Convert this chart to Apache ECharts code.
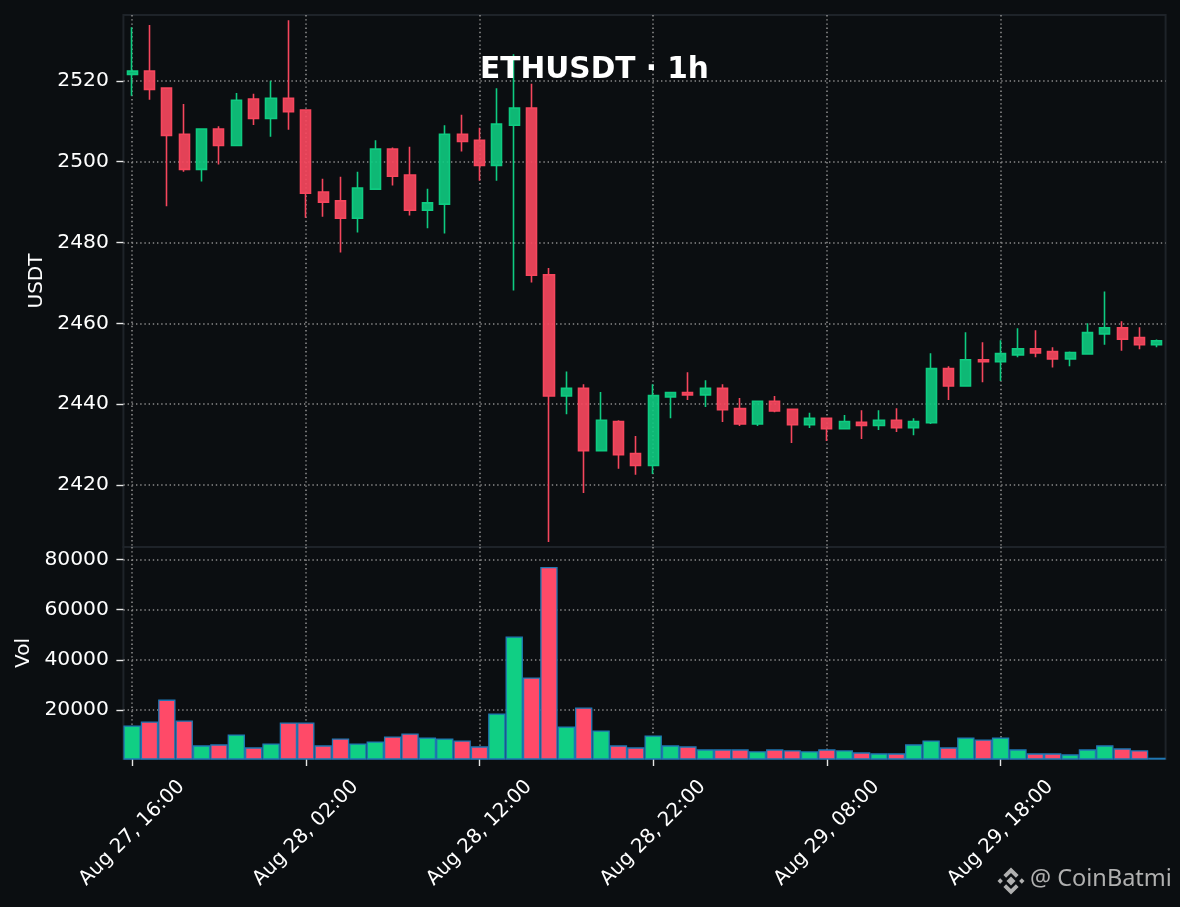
<!DOCTYPE html>
<html>
<head>
<meta charset="utf-8">
<script src="https://cdn.jsdelivr.net/npm/echarts@6/dist/echarts.min.js"></script>
<style>html,body{margin:0;padding:0;background:#0b0e11}#c{width:1180px;height:907px}</style>
</head>
<body>
<div id="c"></div>
<script>
const categories = [
"Aug 27, 16:00","Aug 27, 17:00","Aug 27, 18:00","Aug 27, 19:00","Aug 27, 20:00","Aug 27, 21:00","Aug 27, 22:00","Aug 27, 23:00",
"Aug 28, 00:00","Aug 28, 01:00","Aug 28, 02:00","Aug 28, 03:00","Aug 28, 04:00","Aug 28, 05:00","Aug 28, 06:00","Aug 28, 07:00",
"Aug 28, 08:00","Aug 28, 09:00","Aug 28, 10:00","Aug 28, 11:00","Aug 28, 12:00","Aug 28, 13:00","Aug 28, 14:00","Aug 28, 15:00",
"Aug 28, 16:00","Aug 28, 17:00","Aug 28, 18:00","Aug 28, 19:00","Aug 28, 20:00","Aug 28, 21:00","Aug 28, 22:00","Aug 28, 23:00",
"Aug 29, 00:00","Aug 29, 01:00","Aug 29, 02:00","Aug 29, 03:00","Aug 29, 04:00","Aug 29, 05:00","Aug 29, 06:00","Aug 29, 07:00",
"Aug 29, 08:00","Aug 29, 09:00","Aug 29, 10:00","Aug 29, 11:00","Aug 29, 12:00","Aug 29, 13:00","Aug 29, 14:00","Aug 29, 15:00",
"Aug 29, 16:00","Aug 29, 17:00","Aug 29, 18:00","Aug 29, 19:00","Aug 29, 20:00","Aug 29, 21:00","Aug 29, 22:00","Aug 29, 23:00",
"Aug 30, 00:00","Aug 30, 01:00","Aug 30, 02:00","Aug 30, 03:00"];
const opens = [2521.6,2522.4,2518.2,2506.8,2498.1,2508.1,2504,2515.5,2510.7,2515.7,
2512.8,2492.5,2490.3,2486,2493.2,2503.1,2496.7,2488,2489.5,2506.8,
2505.3,2499.1,2509,2513.3,2472,2442,2443.9,2428.5,2435.7,2427.8,
2424.8,2441.8,2442.9,2442.3,2443.9,2438.9,2435.1,2440.7,2438.7,2434.9,
2436.5,2433.9,2435.5,2434.7,2436,2434.2,2435.4,2448.8,2444.5,2451,
2450.5,2452.2,2453.7,2453,2451.2,2452.4,2457.4,2458.9,2456.5,2454.7];
const closes = [2522.4,2517.9,2506.5,2498.1,2508.1,2504,2515.2,2510.7,2515.7,2512.4,
2492.2,2490,2486,2493.5,2503.1,2496.4,2488,2489.8,2506.8,2505,
2499.1,2509.3,2513.3,2471.9,2442,2443.9,2428.5,2436,2427.5,2424.8,
2442.1,2442.9,2442.3,2443.9,2438.6,2435.1,2440.7,2438.3,2434.9,2436.5,
2433.9,2435.7,2434.7,2436,2434.2,2435.7,2448.8,2444.5,2451,2450.5,
2452.5,2453.7,2452.7,2451.2,2452.8,2457.7,2458.9,2456.1,2454.7,2455.7];
const lows = [2516.3,2515.3,2489,2497.5,2495.1,2499.3,2504,2509.1,2506.2,2507.9,
2486.1,2486.4,2477.5,2482.5,2493.2,2494.1,2486.7,2483.5,2482.2,2502.5,
2495.3,2495.3,2468.1,2470.1,2405.9,2437.5,2418,2428.5,2424,2422.5,
2422.7,2436.5,2441,2439.3,2435.6,2434.6,2434.6,2438,2430.4,2434.1,
2430.9,2433.7,2431.4,2433.6,2433.1,2432.3,2435.1,2441,2444.5,2445.4,
2445.7,2451.6,2451.6,2449.1,2449.4,2452.4,2454.7,2453.2,2453.6,2454.1];
const highs = [2533.25,2533.8,2518.2,2514.3,2508.1,2508.8,2517,2516.8,2520,2535,
2512.8,2495.8,2496.3,2497.5,2505.3,2503.5,2503.7,2493.3,2509,2511.6,
2508.4,2518.2,2526.6,2519.3,2473.7,2448.1,2444.9,2443,2436,2432.1,
2444.9,2442.9,2447.9,2445.9,2444.9,2441.5,2440.9,2442,2438.9,2437.9,
2436.7,2437.3,2438.5,2438.5,2439,2436.5,2452.6,2449.4,2457.8,2455.3,
2455.8,2458.8,2458.3,2454.1,2453,2460,2467.9,2460.5,2459,2456];
const volumes = [13800,15400,24150,15800,5900,6300,10260,5100,6650,15000,
15000,5900,8670,6650,7480,9470,10650,9070,8670,7880,
5500,18600,49270,33000,77040,13430,20970,11850,5900,5100,
9860,5900,5500,4310,4310,4310,3520,4310,3920,3520,
4310,3920,3120,2720,2720,6300,7880,5100,9070,8280,
9070,4310,2720,2720,2320,4310,5900,4700,3920,980];
const priceTicks = [2420,2440,2460,2480,2500,2520];
const volumeTicks = [20000,40000,60000,80000];
const titleText = "ETHUSDT \u00b7 1h";
const priceName = "USDT";
const volumeName = "Vol";
const watermark = "@ CoinBatmi";

const UP = '#0ecb81', DOWN = '#f6465d';
const BG = '#0b0e11', FRAME = '#1e2329', GRID = '#8a8a8a', TXT = '#ffffff';
const FONT = '"DejaVu Sans", sans-serif';
const candleData = opens.map((o, i) => [o, closes[i], lows[i], highs[i]]);
const volumeData = volumes.map((v, i) => ({
  value: v,
  itemStyle: { color: closes[i] >= opens[i] ? '#10cf84' : '#ff4a68' }
}));
const gridLine = { show: true, lineStyle: { color: GRID, width: 1.6, type: [1.4, 2.8] } };
const xGrid = { show: true, interval: 9, alignWithLabel: true, lineStyle: gridLine.lineStyle };

const chart = echarts.init(document.getElementById('c'), null, { renderer: 'canvas' });
chart.setOption({
  animation: false,
  backgroundColor: BG,
  textStyle: { fontFamily: FONT },
  title: {
    text: titleText, left: 589.5, top: 50, textAlign: 'center', z: 10,
    textStyle: { color: TXT, fontSize: 29.6, fontWeight: 'bold', fontFamily: FONT }
  },
  grid: [
    { left: 123.4, right: 14.4, top: 15, height: 532, show: true, borderColor: FRAME, borderWidth: 2, backgroundColor: 'transparent', outerBoundsMode: 'none' },
    { left: 123.4, right: 14.4, top: 547, height: 212, show: true, borderColor: FRAME, borderWidth: 2, backgroundColor: 'transparent', outerBoundsMode: 'none' }
  ],
  xAxis: [
    { type: 'category', gridIndex: 0, data: categories, boundaryGap: true,
      axisLine: { show: false }, axisTick: { show: false }, axisLabel: { show: false },
      splitLine: xGrid },
    { type: 'category', gridIndex: 1, data: categories, boundaryGap: true,
      axisLine: { show: false },
      axisTick: { show: true, interval: 9, alignWithLabel: true, length: 7, lineStyle: { color: '#e6e6e6', width: 1.4 } },
      axisLabel: { show: true, interval: 9, rotate: 45, align: 'center', verticalAlign: 'middle', margin: 74,
        color: TXT, fontSize: 19.8, fontFamily: FONT, hideOverlap: false },
      splitLine: xGrid }
  ],
  yAxis: [
    { type: 'value', gridIndex: 0, min: 2404.65, max: 2536.3, scale: true,
      name: priceName, nameLocation: 'middle', nameGap: 74, nameRotate: 90,
      nameTextStyle: { color: TXT, fontSize: 20, fontFamily: FONT },
      axisLine: { show: false },
      axisTick: { show: true, length: 7, customValues: priceTicks, lineStyle: { color: '#e6e6e6', width: 1.4 } },
      axisLabel: { show: true, margin: 14.5, padding: [4, 0, 0, 0], customValues: priceTicks, color: TXT, fontSize: 20.3, fontFamily: FONT,
        formatter: v => String(v) },
      splitLine: gridLine },
    { type: 'value', gridIndex: 1, min: 460, max: 84980,
      name: volumeName, nameLocation: 'middle', nameGap: 88, nameRotate: 90,
      nameTextStyle: { color: TXT, fontSize: 20, fontFamily: FONT },
      axisLine: { show: false },
      axisTick: { show: true, length: 7, customValues: volumeTicks, lineStyle: { color: '#e6e6e6', width: 1.4 } },
      axisLabel: { show: true, margin: 14.5, padding: [4, 0, 0, 0], customValues: volumeTicks, color: TXT, fontSize: 20.3, fontFamily: FONT,
        formatter: v => String(v) },
      splitLine: gridLine }
  ],
  series: [
    { type: 'candlestick', name: 'ETHUSDT', xAxisIndex: 0, yAxisIndex: 0, data: candleData,
      barWidth: 10.6, clip: true,
      itemStyle: { color: 'rgba(14,203,129,0.9)', color0: 'rgba(246,70,93,0.92)', borderColor: UP, borderColor0: DOWN, borderWidth: 1.6 } },
    { type: 'bar', name: 'Vol', xAxisIndex: 1, yAxisIndex: 1, data: volumeData, barWidth: '100%',
      itemStyle: { borderColor: '#1f77b4', borderWidth: 1.3 } }
  ],
  graphic: [
    { type: 'text', left: 1030, top: 867, z: 20, style: { text: watermark, fill: '#b0b0b0', fontSize: 23.5, fontFamily: '"Noto Sans", sans-serif' } },
    { type: 'group', x: 1011, y: 881, z: 20, children: [
      { type: 'polygon', shape: { points: [[0,-4.5],[4.5,0],[0,4.5],[-4.5,0]] }, style: { fill: '#b0b0b0' } },
      { type: 'polygon', shape: { points: [[-13.5,0],[-10.8,-2.7],[-8.1,0],[-10.8,2.7]] }, style: { fill: '#b0b0b0' } },
      { type: 'polygon', shape: { points: [[13.5,0],[10.8,-2.7],[8.1,0],[10.8,2.7]] }, style: { fill: '#b0b0b0' } },
      { type: 'polygon', shape: { points: [[0,-13.5],[7.6,-5.9],[4.9,-3.2],[0,-8.1],[-4.9,-3.2],[-7.6,-5.9]] }, style: { fill: '#b0b0b0' } },
      { type: 'polygon', shape: { points: [[0,13.5],[7.6,5.9],[4.9,3.2],[0,8.1],[-4.9,3.2],[-7.6,5.9]] }, style: { fill: '#b0b0b0' } }
    ] }
  ]
});
</script>
</body>
</html>
